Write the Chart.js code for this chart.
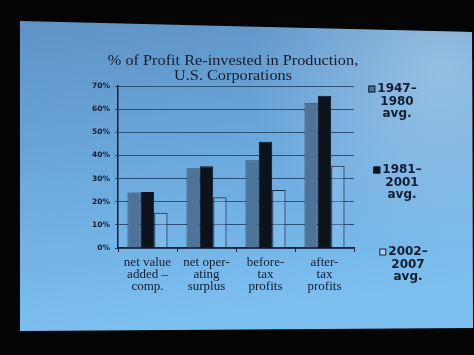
<!DOCTYPE html>
<html>
<head>
<meta charset="utf-8">
<script src="https://cdn.jsdelivr.net/npm/chart.js@4"></script>
<style>
  html, body { margin: 0; padding: 0; background: #000; }
  #wrap { width: 474px; height: 355px; }
</style>
</head>
<body>
<div id="wrap"><canvas id="chartOne" width="474" height="355"></canvas></div>
<script>
const categories = [
  ['net value', 'added –', 'comp.'],
  ['net oper-', 'ating', 'surplus'],
  ['before-', 'tax', 'profits'],
  ['after-', 'tax', 'profits']
];
const avg1947_1980 = [24.0, 34.5, 37.9, 62.8];
const avg1981_2001 = [24.2, 35.3, 45.9, 65.8];
const avg2002_2007 = [15.2, 21.9, 25.1, 35.5];
const seriesLabels = [['1947–', '1980', 'avg.'], ['1981–', '2001', 'avg.'], ['2002–', '2007', 'avg.']];
const yTicks = [0, 10, 20, 30, 40, 50, 60, 70];
const titleLines = ['% of Profit Re-invested in Production,', 'U.S. Corporations'];

const ink = '#121c30';

// projected slide + black surround, title and legend
const slideBg = {
  id: 'slideBg',
  beforeDraw(chart) {
    const c = chart.ctx;
    c.save();
    c.fillStyle = '#050505';
    c.fillRect(0, 0, chart.width, chart.height);
    c.beginPath();
    c.moveTo(20, 21);
    c.lineTo(472, 32);
    c.lineTo(473, 328);
    c.lineTo(20, 331);
    c.closePath();
    const g = c.createLinearGradient(0, 20, 40, 340);
    g.addColorStop(0, '#5f92c4');
    g.addColorStop(0.45, '#6aa6da');
    g.addColorStop(1, '#7cc0f0');
    c.fillStyle = g;
    c.fill();
    c.clip();
    const r = c.createRadialGradient(440, 70, 5, 440, 70, 190);
    r.addColorStop(0, 'rgba(185,215,238,0.55)');
    r.addColorStop(1, 'rgba(185,215,238,0)');
    c.fillStyle = r;
    c.fillRect(0, 0, chart.width, chart.height);
    c.restore();
  },
  afterDraw(chart) {
    const c = chart.ctx;
    c.save();
    c.fillStyle = ink;
    c.textAlign = 'center';
    c.textBaseline = 'middle';
    c.font = '15.5px "Liberation Serif", serif';
    c.save();
    c.translate(233, 0);
    c.scale(1.05, 1);
    c.fillText(titleLines[0], 0, 61);
    c.fillText(titleLines[1], 0, 76);
    c.restore();

    const tops = [89, 170, 252];
    const xs = [397, 402, 408];
    c.font = 'bold 12px "DejaVu Sans", sans-serif';
    chart.data.datasets.forEach((ds, i) => {
      const lines = seriesLabels[i];
      lines.forEach((t, j) => c.fillText(t, xs[i], tops[i] + j * 12.5));
      const w = c.measureText(lines[0]).width;
      const sx = xs[i] - w / 2 - 9;
      c.fillStyle = ds.legendFill;
      c.fillRect(sx, tops[i] - 3.5, 7, 7);
      c.strokeStyle = ink;
      c.lineWidth = 1;
      c.strokeRect(sx + 0.5, tops[i] - 3, 6, 6);
      c.fillStyle = ink;
    });
    c.restore();
  }
};

new Chart(document.getElementById('chartOne'), {
  type: 'bar',
  data: {
    labels: categories,
    datasets: [
      { label: '1947–1980 avg.', data: avg1947_1980, backgroundColor: '#4f7299', borderColor: '#34506e', borderWidth: 1, legendFill: '#4f7299' },
      { label: '1981–2001 avg.', data: avg1981_2001, backgroundColor: '#0d131c', borderColor: '#0d131c', borderWidth: 1, legendFill: '#0d131c' },
      { label: '2002–2007 avg.', data: avg2002_2007, backgroundColor: 'rgba(150,200,240,0.3)', borderColor: '#1a2c44', borderWidth: 1, legendFill: 'rgba(200,230,250,0.6)' }
    ]
  },
  options: {
    responsive: false,
    animation: false,
    datasets: { bar: { categoryPercentage: 0.68, barPercentage: 1.0 } },
    layout: { padding: { left: 84, right: 120, top: 86, bottom: 52 } },
    plugins: { legend: { display: false }, title: { display: false }, tooltip: { enabled: false } },
    scales: {
      x: {
        afterFit: s => { s.height = 55; },
        grid: { display: true, drawOnChartArea: false, drawTicks: true, tickLength: 4, color: ink, offset: true },
        border: { display: true, color: ink, width: 1.5 },
        ticks: { color: ink, font: { family: '"Liberation Serif", serif', size: 13, lineHeight: 0.95 }, padding: 4, maxRotation: 0, autoSkip: false }
      },
      y: {
        min: 0,
        max: 70,
        afterFit: s => { s.width = 34; },
        afterBuildTicks: s => { s.ticks = yTicks.map(v => ({ value: v })); },
        grid: { color: '#2a5078', lineWidth: 1, tickLength: 3 },
        border: { display: true, color: ink, width: 1.5 },
        ticks: { color: ink, font: { family: '"DejaVu Sans", sans-serif', size: 7.5, weight: 'bold' }, padding: 5, callback: v => v + '%' }
      }
    }
  },
  plugins: [slideBg]
});
</script>
</body>
</html>
